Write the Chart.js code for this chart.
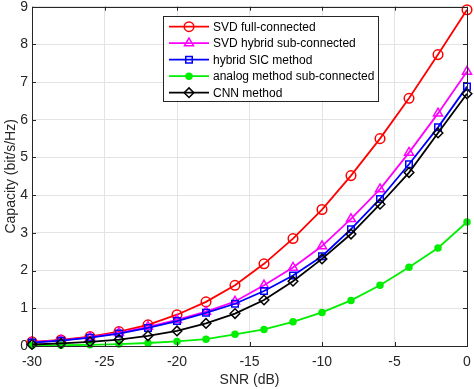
<!DOCTYPE html>
<html><head><meta charset="utf-8">
<script src="https://cdn.jsdelivr.net/npm/chart.js@4/dist/chart.umd.min.js"></script>
<style>html,body{margin:0;padding:0;background:#fff}#wrap{width:474px;height:389px}</style>
</head><body><div id="wrap"><canvas id="c" width="474" height="389"></canvas></div>
<script>
const snr = [-30,-28,-26,-24,-22,-20,-18,-16,-14,-12,-10,-8,-6,-4,-2,0];
const svdFull   = [0.11,0.16,0.25,0.38,0.56,0.83,1.17,1.61,2.18,2.85,3.62,4.52,5.50,6.57,7.73,8.92];
const svdHybrid = [0.10,0.15,0.23,0.35,0.51,0.69,0.91,1.18,1.61,2.08,2.65,3.37,4.16,5.13,6.17,7.28];
const hybridSIC = [0.09,0.14,0.22,0.33,0.48,0.66,0.88,1.12,1.46,1.87,2.38,3.10,3.90,4.82,5.80,6.88];
const analogSub = [0.01,0.02,0.03,0.05,0.08,0.12,0.18,0.31,0.44,0.64,0.89,1.21,1.61,2.09,2.60,3.29];
const cnn       = [0.04,0.07,0.11,0.17,0.27,0.40,0.60,0.86,1.22,1.72,2.31,2.97,3.76,4.60,5.65,6.69];
const seriesNames = ["SVD full-connected","SVD hybrid sub-connected","hybrid SIC method","analog method sub-connected","CNN method"];
const xTicks = [-30,-25,-20,-15,-10,-5,0];
const yTicks = [0,1,2,3,4,5,6,7,8,9];

const FONT = "'Liberation Sans', Arial, sans-serif";
const styles = [
  {c:'#ff0000', p:'circle', r:4.8, fill:false},
  {c:'#ff00ff', p:'triangle', r:5.2, fill:false},
  {c:'#0000ff', p:'rect', r:4.6, fill:false},
  {c:'#00ee00', p:'circle', r:3, fill:true},
  {c:'#000000', p:'rectRot', r:4.8, fill:false}
];
const vals = [svdFull, svdHybrid, hybridSIC, analogSub, cnn];
const datasets = vals.map((v,i)=>({
  label: seriesNames[i],
  data: snr.map((x,j)=>({x:x,y:v[j]})),
  borderColor: styles[i].c,
  backgroundColor: styles[i].fill ? styles[i].c : 'rgba(0,0,0,0)',
  pointBackgroundColor: styles[i].fill ? styles[i].c : 'rgba(0,0,0,0)',
  pointBorderColor: styles[i].c,
  pointStyle: styles[i].p,
  pointRadius: styles[i].r,
  pointBorderWidth: 1.5,
  borderWidth: 1.8,
  tension: 0,
  fill: false,
  clip: false,
  order: 4 - i
}));

const frameAndLegend = {
  id: 'frameAndLegend',
  afterDatasetsDraw(chart){
    const ctx = chart.ctx, a = chart.chartArea;
    const xs = chart.scales.x, ys = chart.scales.y;
    ctx.save();
    ctx.strokeStyle = '#262626'; ctx.lineWidth = 1;
    ctx.beginPath();
    xTicks.forEach(t=>{const px=Math.round(xs.getPixelForValue(t))+0.5;
      ctx.moveTo(px,a.bottom); ctx.lineTo(px,a.bottom-4);
      ctx.moveTo(px,a.top); ctx.lineTo(px,a.top+4);});
    yTicks.forEach(t=>{const py=Math.round(ys.getPixelForValue(t))+0.5;
      ctx.moveTo(a.left,py); ctx.lineTo(a.left+4,py);
      ctx.moveTo(a.right,py); ctx.lineTo(a.right-4,py);});
    ctx.stroke();
    ctx.strokeRect(Math.round(a.left)+0.5, Math.round(a.top)+0.5, Math.round(a.right-a.left), Math.round(a.bottom-a.top));
    // legend
    const lx = a.left + 131, ly = a.top + 9, lw = 215, lh = 85;
    ctx.fillStyle = '#fff';
    ctx.fillRect(lx, ly, lw, lh);
    ctx.strokeStyle = '#262626'; ctx.lineWidth = 1;
    ctx.strokeRect(Math.round(lx)+0.5, Math.round(ly)+0.5, lw, lh);
    ctx.font = '12px ' + FONT;
    ctx.textBaseline = 'middle'; ctx.textAlign = 'left';
    chart.data.datasets.forEach((d,i)=>{
      const yy = ly + 11 + i*16.5;
      ctx.strokeStyle = d.borderColor; ctx.lineWidth = 1.8;
      ctx.beginPath(); ctx.moveTo(lx+6, yy); ctx.lineTo(lx+46, yy); ctx.stroke();
      ctx.fillStyle = d.pointBackgroundColor;
      ctx.strokeStyle = d.pointBorderColor; ctx.lineWidth = 1.5;
      Chart.helpers.drawPoint(ctx, {pointStyle:d.pointStyle, radius:d.pointRadius, borderWidth:1.5, rotation:0}, lx+26, yy);
      ctx.fillStyle = '#000';
      ctx.fillText(d.label, lx+50, yy+0.5);
    });
    ctx.restore();
  }
};

new Chart(document.getElementById('c'), {
  type: 'line',
  data: { datasets },
  plugins: [frameAndLegend],
  options: {
    responsive: false, animation: false,
    layout: { padding: { top: 5, right: 7, left: 3, bottom: 0 } },
    plugins: { legend: { display: false }, tooltip: { enabled: false } },
    scales: {
      x: {
        type: 'linear', min: -30, max: 0,
        afterFit: s => { s.height = 43; s.paddingLeft = 0; s.paddingRight = 0; },
        afterBuildTicks: s => { s.ticks = xTicks.map(v=>({value:v})); },
        grid: { color: '#e3e3e3', drawTicks: false, lineWidth: 1 },
        border: { display: false },
        ticks: { color: '#262626', font: { family: FONT, size: 14 }, padding: 8, maxRotation: 0 },
        title: { display: true, text: 'SNR (dB)', color: '#262626', font: { family: FONT, size: 14 }, padding: { top: 0, bottom: 0 } }
      },
      y: {
        type: 'linear', min: 0, max: 9,
        afterFit: s => { s.width = 29; s.paddingTop = 0; s.paddingBottom = 0; },
        afterBuildTicks: s => { s.ticks = yTicks.map(v=>({value:v})); },
        grid: { color: '#e3e3e3', drawTicks: false, lineWidth: 1 },
        border: { display: false },
        ticks: { color: '#262626', font: { family: FONT, size: 14 }, padding: 4 },
        title: { display: true, text: 'Capacity (bit/s/Hz)', color: '#262626', font: { family: FONT, size: 14 }, padding: { top: 0, bottom: 0 } }
      }
    }
  }
});
</script></body></html>
